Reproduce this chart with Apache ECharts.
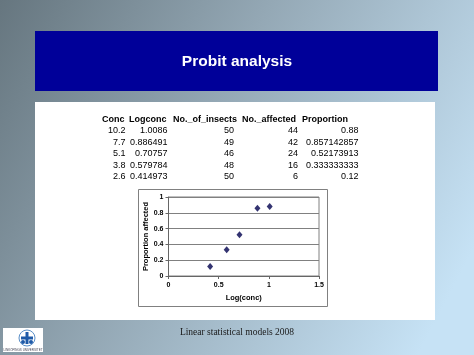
<!DOCTYPE html>
<html>
<head>
<meta charset="utf-8">
<script src="https://cdn.jsdelivr.net/npm/echarts@6/dist/echarts.min.js"></script>
<style>html,body{margin:0;padding:0;}#c{width:474px;height:355px;}</style>
</head>
<body>
<div id="c"></div>
<script>
var headers = ['Conc', 'Logconc', 'No._of_insects', 'No._affected', 'Proportion'];
var conc = [10.2, 7.7, 5.1, 3.8, 2.6];
var logconc = [1.0086, 0.886491, 0.70757, 0.579784, 0.414973];
var insects = [50, 49, 46, 48, 50];
var affected = [44, 42, 24, 16, 6];
var proportion = [0.88, 0.857142857, 0.52173913, 0.333333333, 0.12];
var xTicks = [0, 0.5, 1, 1.5];
var yTicks = [0, 0.2, 0.4, 0.6, 0.8, 1];

var chart = echarts.init(document.getElementById('c'), null, {renderer: 'canvas'});

var headerX = [102, 129, 173, 242, 302];
var valueRight = [125.5, 167.5, 234, 298, 358.5];
var cols = [conc, logconc, insects, affected, proportion];
var rowY0 = 131, rowStep = 11.5;

var g = [];
g.push({type: 'rect', z: -10, shape: {x: 0, y: 0, width: 474, height: 355},
  style: {fill: new echarts.graphic.LinearGradient(0, 0, 1, 0.7, [
    {offset: 0, color: '#66767f'}, {offset: 0.45, color: '#94a8b5'}, {offset: 1, color: '#c6e2f5'}])}});
g.push({type: 'rect', z: -9, shape: {x: 35, y: 31, width: 403, height: 60}, style: {fill: '#000099'}});
g.push({type: 'text', z: -8, style: {text: 'Probit analysis', x: 237, y: 62, fill: '#ffffff',
  font: 'bold 15.5px "Liberation Sans", Arial, sans-serif', textAlign: 'center', textVerticalAlign: 'middle', align: 'center', verticalAlign: 'middle'}});
g.push({type: 'rect', z: -9, shape: {x: 35, y: 102, width: 400, height: 218}, style: {fill: '#ffffff'}});
g.push({type: 'rect', z: -8, shape: {x: 138.5, y: 189.5, width: 189, height: 117}, style: {fill: '#ffffff', stroke: '#808080', lineWidth: 1}});

for (var i = 0; i < headers.length; i++) {
  g.push({type: 'text', z: -7, style: {text: headers[i], x: headerX[i], y: 120, fill: '#000',
    font: 'bold 9px "Liberation Sans", Arial, sans-serif', textAlign: 'left', textVerticalAlign: 'middle', align: 'left', verticalAlign: 'middle'}});
  for (var r = 0; r < cols[i].length; r++) {
    g.push({type: 'text', z: -7, style: {text: String(cols[i][r]), x: valueRight[i], y: rowY0 + r * rowStep, fill: '#000',
      font: '9px "Liberation Sans", Arial, sans-serif', textAlign: 'right', textVerticalAlign: 'middle', align: 'right', verticalAlign: 'middle'}});
  }
}

g.push({type: 'text', z: -7, style: {text: 'Linear statistical models 2008', x: 237, y: 332, fill: '#1a1a1a',
  font: '9.5px "Liberation Serif", "Times New Roman", serif', textAlign: 'center', textVerticalAlign: 'middle', align: 'center', verticalAlign: 'middle'}});

// logo
g.push({type: 'rect', z: -7, shape: {x: 3, y: 328, width: 40, height: 24}, style: {fill: '#ffffff'}});
g.push({type: 'circle', z: -6, shape: {cx: 27, cy: 338, r: 8}, style: {fill: '#ffffff', stroke: '#5a8fc8', lineWidth: 1}});
g.push({type: 'rect', z: -6, shape: {x: 25.5, y: 332, width: 3, height: 12}, style: {fill: '#1f5aa8'}});
g.push({type: 'rect', z: -6, shape: {x: 21, y: 336.5, width: 12, height: 3}, style: {fill: '#1f5aa8'}});
g.push({type: 'circle', z: -6, shape: {cx: 23, cy: 342, r: 2}, style: {fill: '#1f5aa8'}});
g.push({type: 'circle', z: -6, shape: {cx: 31, cy: 342, r: 2}, style: {fill: '#1f5aa8'}});
g.push({type: 'text', z: -6, style: {text: 'LINKÖPINGS UNIVERSITET', x: 23, y: 350, fill: '#445',
  font: '3px "Liberation Sans", Arial, sans-serif', textAlign: 'center', textVerticalAlign: 'middle', align: 'center', verticalAlign: 'middle'}});

var pts = logconc.map(function (x, k) { return [x, proportion[k]]; });
var axisFont = {fontFamily: '"Liberation Sans", Arial, sans-serif', fontWeight: 'bold', fontSize: 7, color: '#000'};

chart.setOption({
  animation: false,
  backgroundColor: 'transparent',
  graphic: {elements: g},
  grid: {left: 168.5, right: 155, top: 197, bottom: 79, show: true, borderColor: '#808080', borderWidth: 1, backgroundColor: 'transparent', containLabel: false},
  xAxis: {
    type: 'value', min: xTicks[0], max: xTicks[xTicks.length - 1], interval: 0.5,
    name: 'Log(conc)', nameLocation: 'middle', nameGap: 18,
    nameTextStyle: {fontFamily: '"Liberation Sans", Arial, sans-serif', fontWeight: 'bold', fontSize: 7.5, color: '#000'},
    axisLine: {show: true, onZero: false, lineStyle: {color: '#666', width: 1}},
    axisTick: {show: true, inside: false, length: 3, lineStyle: {color: '#666'}},
    axisLabel: Object.assign({margin: 6, formatter: function (v) { return String(v); }}, axisFont),
    splitLine: {show: false}
  },
  yAxis: {
    type: 'value', min: yTicks[0], max: yTicks[yTicks.length - 1], interval: 0.2,
    name: 'Proportion affected', nameLocation: 'middle', nameGap: 17, nameRotate: 90,
    nameTextStyle: {fontFamily: '"Liberation Sans", Arial, sans-serif', fontWeight: 'bold', fontSize: 7.5, color: '#000'},
    axisLine: {show: true, lineStyle: {color: '#666', width: 1}},
    axisTick: {show: true, inside: false, length: 3, lineStyle: {color: '#666'}},
    axisLabel: Object.assign({margin: 5, formatter: function (v) { return String(Math.round(v * 10) / 10); }}, axisFont),
    splitLine: {show: true, lineStyle: {color: '#808080', width: 1}}
  },
  series: [{
    type: 'scatter', data: pts, symbol: 'diamond', symbolSize: [6, 7],
    itemStyle: {color: '#00004d'}
  }]
});
</script>
</body>
</html>
